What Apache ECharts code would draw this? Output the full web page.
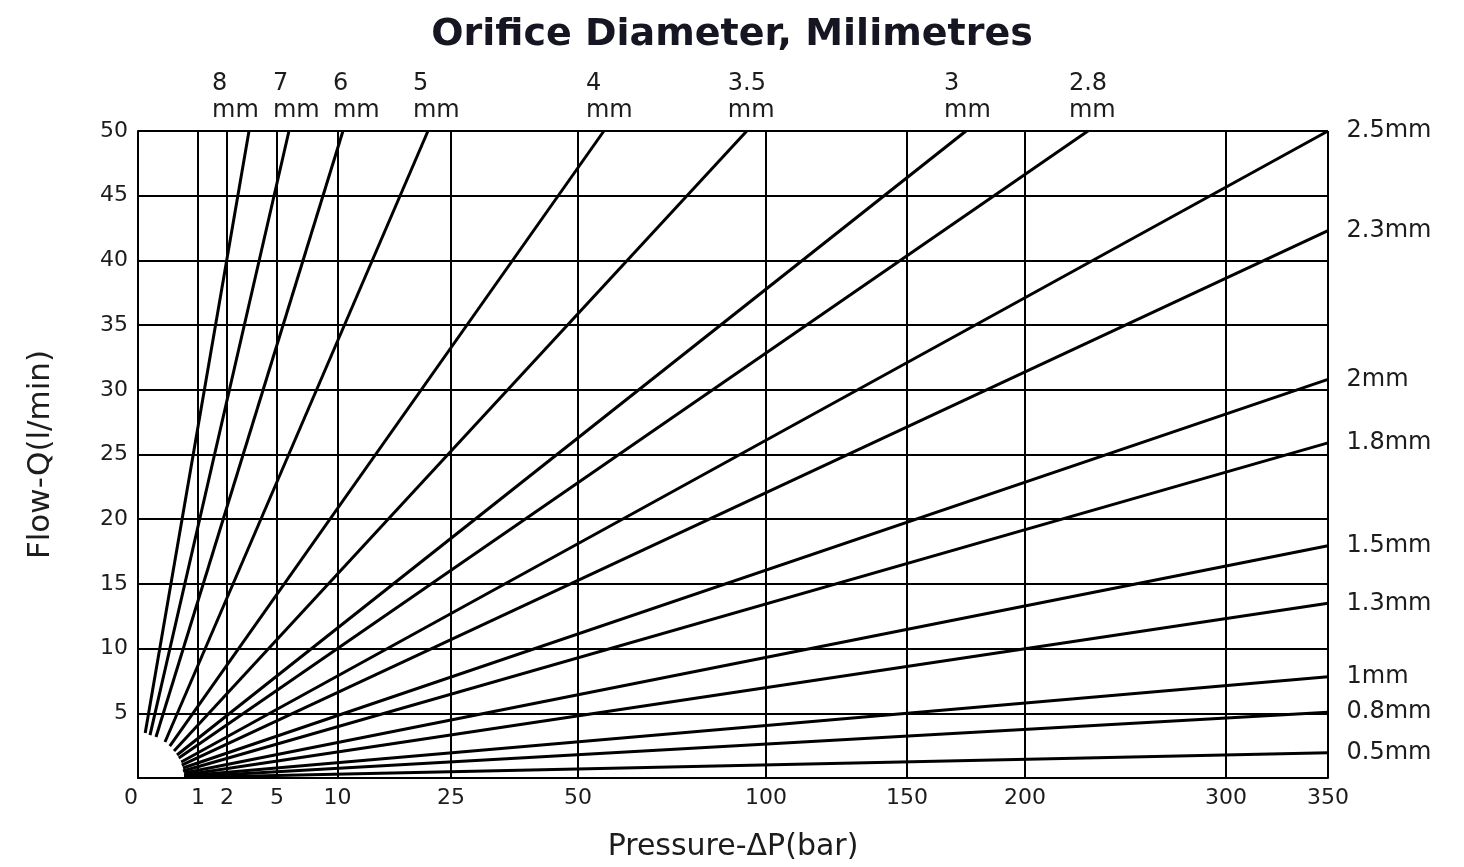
<!DOCTYPE html>
<html>
<head>
<meta charset="utf-8">
<script src="https://cdn.jsdelivr.net/npm/echarts@6/dist/echarts.min.js"></script>
<style>
html,body{margin:0;padding:0;background:#fff;}
#chart{width:1464px;height:867px;}
</style>
</head>
<body>
<div id="chart"></div>
<script>
// Orifice diameters (mm)
const diameters = ['8','7','6','5','4','3.5','3','2.8','2.5','2.3','2','1.8','1.5','1.3','1','0.8','0.5'];
// Line start points (pressure bar, flow l/min)
const startP = [0.12,0.20,0.30,0.45,0.53,0.60,0.65,0.68,0.72,0.73,0.75,0.75,0.77,0.77,0.77,0.77,0.77];
const startQ = [3.48,3.32,3.17,2.78,2.47,2.09,1.78,1.55,1.24,1.00,0.77,0.54,0.39,0.23,0.15,0.08,0.04];
// Line end points (pressure bar, flow l/min)
const endP = [3.32,5.99,10.73,21.96,56.9,94.9,175,231.3,350,350,350,350,350,350,350,350,350];
const endQ = [50,50,50,50,50,50,50,50,50,42.3,30.8,25.9,17.95,13.5,7.83,5.08,1.96];
// Pressure axis tick labels and their relative positions on the axis
const xTickLabels = [0,1,2,5,10,25,50,100,150,200,300,350];
const xTickPos = [0,0.0504,0.0748,0.1168,0.1676,0.2630,0.3697,0.5277,0.6462,0.7454,0.9143,1];
// Flow axis ticks
const yMin = 0, yMax = 50, yStep = 5;

// label placement styles (kept apart from data)
const topLabelDx = [-37,-16,-10,-15,-18,-19,-22,-19];
const textColor = '#1c1c1c';
const FONT = 'DejaVu Sans';

function toPos(p){
  for(let i=0;i<xTickLabels.length-1;i++){
    const a=xTickLabels[i], b=xTickLabels[i+1];
    if(p>=a && p<=b){
      return xTickPos[i] + (p-a)/(b-a)*(xTickPos[i+1]-xTickPos[i]);
    }
  }
  return 1;
}

const series = diameters.map((d,i)=>{
  const isTop = endQ[i] >= yMax && endP[i] < 350;
  const label = isTop ? {
    show:true, position:'top', distance:6.5, align:'left', offset:[topLabelDx[i],0],
    formatter: d+'\nmm', fontSize:24, lineHeight:27, color:textColor, fontFamily:FONT
  } : {
    show:true, position:'right', distance:18, formatter: d+'mm',
    fontSize:24, color:textColor, fontFamily:FONT
  };
  return {
    type:'line', name:d+'mm',
    data:[[toPos(startP[i]), startQ[i]], {value:[toPos(endP[i]), endQ[i]], label:label}],
    symbol:'circle', symbolSize:1, showSymbol:true,
    itemStyle:{color:'rgba(0,0,0,0)'},
    lineStyle:{color:'#000', width:3},
    label:{show:false},
    silent:true, animation:false, clip:false
  };
});

const chart = echarts.init(document.getElementById('chart'));
chart.setOption({
  backgroundColor:'#fff',
  animation:false,
  title:{
    text:'Orifice Diameter, Milimetres', left:'center', top:11,
    textStyle:{fontFamily:FONT, fontWeight:'bold', fontSize:38, color:'#161622'}
  },
  grid:{left:138, right:136, top:131, bottom:89, show:false, outerBoundsMode:'none', containLabel:false},
  xAxis:{
    type:'value', min:0, max:1,
    name:'Pressure-ΔP(bar)', nameLocation:'middle', nameGap:54,
    nameTextStyle:{fontFamily:FONT, fontSize:30, color:textColor},
    axisLine:{show:true, lineStyle:{color:'#000', width:2}},
    axisTick:{show:false, customValues:xTickPos},
    splitLine:{show:true, lineStyle:{color:'#000', width:2}},
    axisLabel:{
      customValues:xTickPos, margin:9, fontFamily:FONT, fontSize:22, color:textColor,
      formatter:(v)=>{
        let idx=0, best=1e9;
        xTickPos.forEach((p,i)=>{ const dd=Math.abs(p-v); if(dd<best){best=dd; idx=i;} });
        return idx===0 ? '{z|0}' : String(xTickLabels[idx]);
      },
      rich:{z:{fontFamily:FONT, fontSize:22, color:textColor, padding:[0,14,0,0]}}
    }
  },
  yAxis:{
    type:'value', min:yMin, max:yMax, interval:yStep,
    name:'Flow-Q(l/min)', nameLocation:'middle', nameGap:82,
    nameTextStyle:{fontFamily:FONT, fontSize:31, color:textColor},
    axisLine:{show:true, lineStyle:{color:'#000', width:2}},
    axisTick:{show:false},
    splitLine:{show:true, lineStyle:{color:'#000', width:2}},
    axisLabel:{
      margin:10, fontFamily:FONT, fontSize:22, color:textColor,
      formatter:(v)=> v===0 ? '' : String(v)
    }
  },
  series:series
});
</script>
</body>
</html>
